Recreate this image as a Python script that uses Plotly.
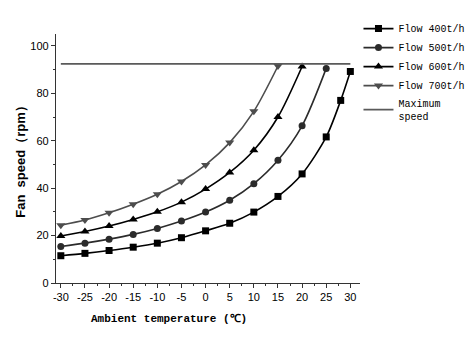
import plotly.graph_objects as go

# Ambient temperature (°C) at each measured point
temp_400 = [-30, -25, -20, -15, -10, -5, 0, 5, 10, 15, 20, 25, 28, 30]
temp_500 = [-30, -25, -20, -15, -10, -5, 0, 5, 10, 15, 20, 25]
temp_600 = [-30, -25, -20, -15, -10, -5, 0, 5, 10, 15, 20]
temp_700 = [-30, -25, -20, -15, -10, -5, 0, 5, 10, 15]

# Fan speed (rpm) for each flow rate
speed_400 = [11.5, 12.5, 13.7, 15.1, 16.8, 19.1, 22.0, 25.2, 29.9, 36.5, 46.0, 61.6, 77.0, 89.2]
speed_500 = [15.4, 16.8, 18.5, 20.5, 23.0, 26.1, 29.9, 34.9, 41.9, 51.8, 66.3, 90.5]
speed_600 = [19.8, 21.7, 24.0, 26.8, 30.0, 34.1, 39.6, 46.6, 56.0, 70.0, 91.3]
speed_700 = [24.4, 26.6, 29.6, 33.2, 37.4, 42.8, 49.8, 59.2, 72.4, 91.5]

# Upper speed limit
max_temp = [-30, 30]
max_speed = [92.4, 92.4]

x_ticks = list(range(-30, 31, 5))
y_ticks = list(range(0, 101, 20))

series = [
    ("Flow 400t/h", temp_400, speed_400, "square", "#000000", 7),
    ("Flow 500t/h", temp_500, speed_500, "circle", "#2b2b2b", 7),
    ("Flow 600t/h", temp_600, speed_600, "triangle-up", "#000000", 8),
    ("Flow 700t/h", temp_700, speed_700, "triangle-down", "#4d4d4d", 8),
]

fig = go.Figure()
for name, xs, ys, sym, col, msize in series:
    fig.add_trace(go.Scatter(
        x=xs, y=ys, name=name, mode="lines+markers",
        line=dict(color=col, width=1.6, shape="spline", smoothing=0.8),
        marker=dict(symbol=sym, size=msize, color=col),
    ))

fig.add_trace(go.Scatter(
    x=max_temp, y=max_speed, name="Maximum<br>speed", mode="lines",
    line=dict(color="#5a5a5a", width=1.6),
))

tick_font = dict(family="Liberation Sans, Arial, sans-serif", size=11, color="#000000")

fig.update_layout(
    width=474, height=337,
    margin=dict(l=56, r=114, t=34, b=54, autoexpand=False),
    paper_bgcolor="white", plot_bgcolor="white",
    showlegend=True,
    legend=dict(
        x=0.995, xanchor="left", y=1.08, yanchor="top",
        font=dict(family="Liberation Mono, Courier New, monospace", size=10, color="#000000"),
        bgcolor="rgba(0,0,0,0)", tracegroupgap=0,
    ),
    xaxis=dict(
        range=[-31, 32], tickvals=x_ticks, ticktext=[str(v) for v in x_ticks],
        showgrid=False, zeroline=False,
        showline=True, linecolor="#333333", linewidth=1.2,
        ticks="outside", ticklen=4, tickcolor="#333333", tickwidth=1,
        minor=dict(dtick=2.5, ticks="outside", ticklen=2, tickcolor="#333333"),
        tickfont=tick_font,
    ),
    yaxis=dict(
        range=[0, 105], tickvals=y_ticks, ticktext=[str(v) for v in y_ticks],
        showgrid=False, zeroline=False,
        showline=True, linecolor="#333333", linewidth=1.2,
        ticks="outside", ticklen=4, tickcolor="#333333", tickwidth=1,
        minor=dict(dtick=10, ticks="outside", ticklen=2, tickcolor="#333333"),
        tickfont=tick_font,
        title=dict(text="<b>Fan  speed（rpm）</b>",
                   font=dict(family="Liberation Sans, Arial, sans-serif", size=13, color="#000000"),
                   standoff=1),
    ),
    annotations=[dict(
        text="<b>Ambient temperature (℃)</b>",
        xref="paper", yref="paper", x=0.372, y=0, xanchor="center", yanchor="middle",
        yshift=-36, showarrow=False,
        font=dict(family="Liberation Mono, Courier New, monospace", size=11, color="#000000"),
    )],
)

fig.write_html("out.html")
